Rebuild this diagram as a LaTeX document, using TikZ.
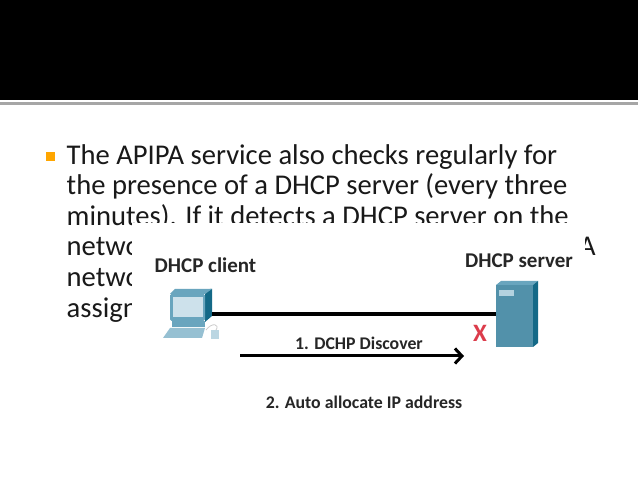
\documentclass[tikz,border=0pt]{standalone}
\usepackage{fontspec}
\setmainfont{Carlito}
\usetikzlibrary{arrows.meta}
\definecolor{teallight}{RGB}{205,225,235}
\definecolor{tealmid}{RGB}{105,165,190}
\definecolor{tealdark}{RGB}{20,105,135}
\definecolor{servfront}{RGB}{82,145,170}
\definecolor{crossred}{RGB}{220,60,75}
\begin{document}
\begin{tikzpicture}[
    x=1pt, y=-1pt,
    body/.style={anchor=base west, inner sep=0pt, font=\fontsize{28.6}{30}\selectfont, text=black!90},
    lab/.style={inner sep=0pt, font=\bfseries\fontsize{21}{22}\selectfont, text=black!85},
    msg/.style={inner sep=0pt, font=\bfseries\fontsize{17.8}{19}\selectfont, text=black!85}
]
    \useasboundingbox (0,0) rectangle (638,478);
    \fill[white] (0,0) rectangle (638,478);
    \fill[black] (0,0) rectangle (638,100);
    \fill[black!35] (0,102) rectangle (638,105);

    % slide text
    \fill[orange!70!yellow] (46,152) rectangle (55,161);
    \node[body] (t1) at (66.5,165) {The APIPA service also checks regularly for};
    \node[body] (t2) at (66.5,195) {the presence of a DHCP server (every three};
    \node[body] (t3) at (66.5,226) {minutes). If it detects a DHCP server on the};
    \node[body] (t4) at (66.5,256) {network};
    \node[body] (t4b) at (579,256) {A};
    \node[body] (t5) at (66.5,287) {network};
    \node[body] (t6) at (66.5,318) {assign};

    % pasted picture
    \fill[white] (132,223) rectangle (585,425);

    \node[lab] (client) at (205.5,265) {DHCP client};
    \node[lab] (server) at (519,261) {DHCP server};

    % computer
    \fill[tealdark] (205,294) -- (210,289) -- (212,289) -- (212,316) -- (205,322) -- cycle;
    \fill[tealmid] (170,294) -- (175,289) -- (212,289) -- (205,294) -- cycle;
    \fill[tealmid, rounded corners=1.5pt] (170,294) rectangle (205,321);
    \fill[teallight] (173,297) rectangle (203,317);
    \fill[tealmid] (172,321) rectangle (205,327);
    \fill[tealmid!70] (170,328) -- (205,328) -- (202,338) -- (163,338) -- cycle;
    \fill[tealmid!45] (211,330) rectangle (219,339);
    \draw[black!20, line width=0.8pt] (206,330) .. controls (212,322) and (220,324) .. (216,330);
    \coordinate (pc) at (212,314);

    % server box
    \fill[servfront] (496,285) rectangle (533,347);
    \fill[tealmid] (496,285) -- (501,281) -- (538,281) -- (533,285) -- cycle;
    \fill[tealdark] (533,285) -- (538,281) -- (538,343) -- (533,347) -- cycle;
    \fill[tealmid!50] (499,290) rectangle (514,296);
    \coordinate (srv) at (496,314);

    \draw[line width=3.8pt] (pc) -- (srv);

    \node[msg] (discover) at (359,343) {1. DCHP Discover};
    \coordinate (a1) at (240,356);
    \coordinate (a2) at (464,356);
    \draw[-{Straight Barb[length=7pt,width=15pt]}, line width=3pt] (a1) -- (a2);

    \node[inner sep=0pt, text=crossred, font=\bfseries\fontsize{25}{26}\selectfont] (cross) at (480,333) {X};
    \node[msg] (alloc) at (364,402) {2. Auto allocate IP address};
\end{tikzpicture}
\end{document}
